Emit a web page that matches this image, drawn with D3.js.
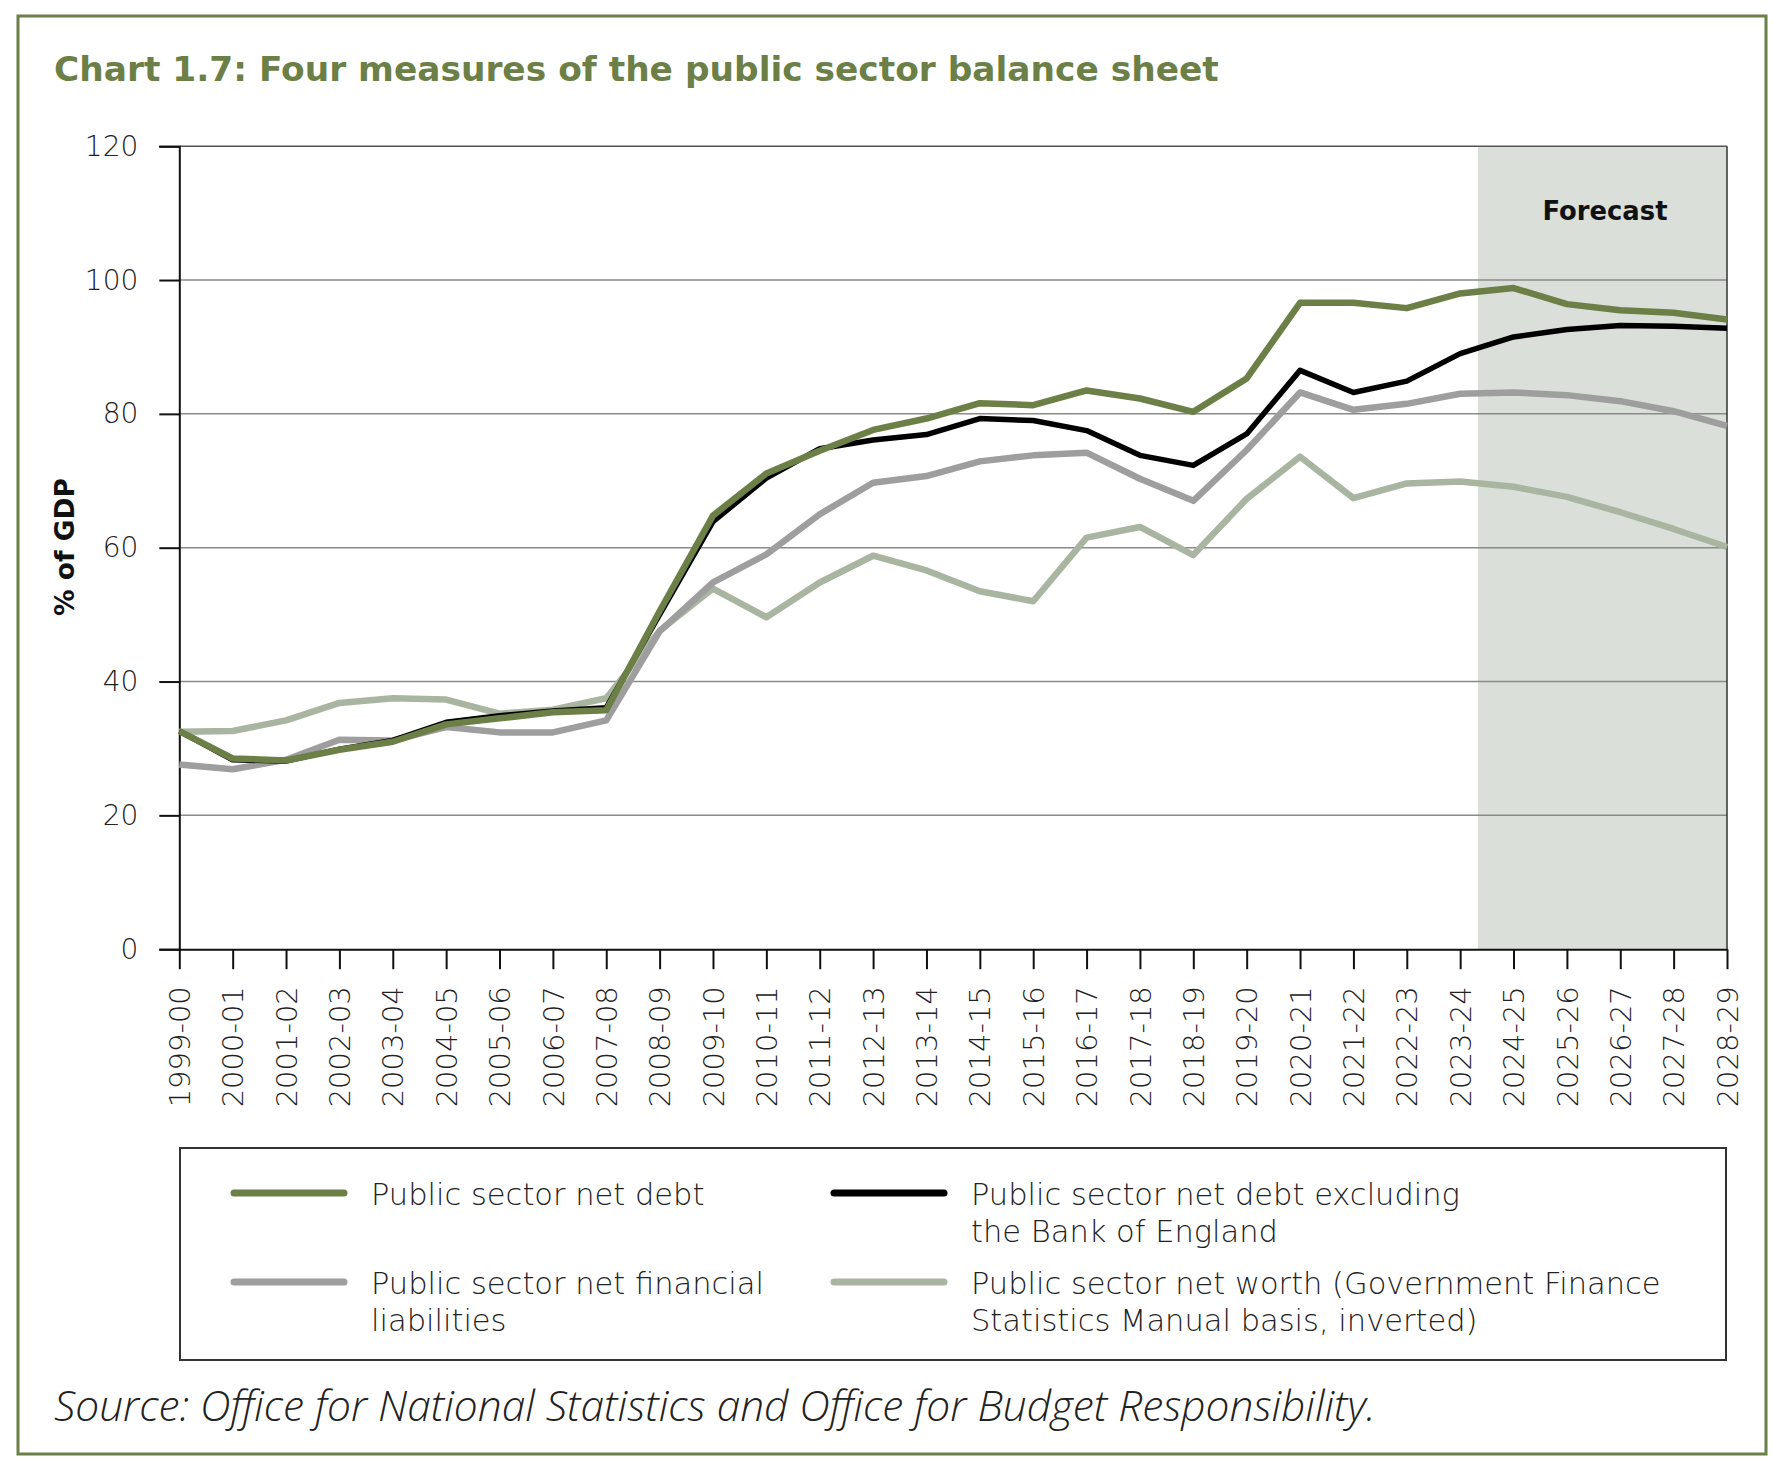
<!DOCTYPE html>
<html>
<head>
<meta charset="utf-8">
<script src="https://cdn.jsdelivr.net/npm/d3@7"></script>
<style>
  body { margin: 0; background: #fff; }
  svg text { font-family: "DejaVu Sans", "Open Sans", sans-serif; }
</style>
</head>
<body>
<svg id="chart" width="1791" height="1474"></svg>
<script>
// Data (% of GDP)
var years = ["1999-00","2000-01","2001-02","2002-03","2003-04","2004-05","2005-06","2006-07","2007-08","2008-09",
  "2009-10","2010-11","2011-12","2012-13","2013-14","2014-15","2015-16","2016-17","2017-18","2018-19",
  "2019-20","2020-21","2021-22","2022-23","2023-24","2024-25","2025-26","2026-27","2027-28","2028-29"];

var psnd = [32.6, 28.5, 28.2, 29.8, 31.0, 33.6, 34.5, 35.4, 35.7, 50.5,
  64.8, 71.1, 74.5, 77.6, 79.3, 81.6, 81.3, 83.5, 82.3, 80.3,
  85.3, 96.6, 96.6, 95.8, 98.0, 98.8, 96.4, 95.5, 95.1, 94.1];

var psndExBoe = [32.6, 28.3, 28.1, 29.9, 31.2, 33.9, 34.9, 35.6, 36.1, 50.0,
  63.9, 70.4, 74.8, 76.1, 76.9, 79.3, 79.0, 77.5, 73.8, 72.3,
  77.0, 86.5, 83.2, 84.9, 89.0, 91.5, 92.6, 93.2, 93.1, 92.8];

var psnfl = [27.6, 26.9, 28.3, 31.3, 31.2, 33.2, 32.4, 32.4, 34.2, 47.5,
  54.8, 59.0, 65.0, 69.7, 70.7, 72.9, 73.8, 74.2, 70.3, 67.0,
  74.6, 83.2, 80.6, 81.5, 83.0, 83.2, 82.8, 81.9, 80.4, 78.2];

var psnw = [32.5, 32.6, 34.2, 36.8, 37.5, 37.3, 35.2, 35.8, 37.5, 47.6,
  53.9, 49.6, 54.8, 58.8, 56.6, 53.5, 52.0, 61.5, 63.1, 58.9,
  67.3, 73.6, 67.4, 69.6, 69.9, 69.1, 67.6, 65.3, 62.8, 60.1];

var yTicks = [0, 20, 40, 60, 80, 100, 120];
var forecastFrom = "2023-24";

var legendLines = [["Public sector net debt"], ["Public sector net debt excluding", "the Bank of England"],
  ["Public sector net financial", "liabilities"], ["Public sector net worth (Government Finance", "Statistics Manual basis, inverted)"]];

var green = "#6b7f46", sage = "#a9b5a0", grey = "#9e9e9e";
var series = [
  { values: psnd, color: green },
  { values: psndExBoe, color: "#000" },
  { values: psnfl, color: grey },
  { values: psnw, color: sage }
];

var svg = d3.select("#chart");

// shrink / grow a text's font so it spans the width it has in the original
function fitWidth(sel, w) {
  var fs = +sel.attr("font-size");
  var cur = sel.node().getComputedTextLength();
  sel.attr("font-size", (fs * w / cur).toFixed(2));
}

// outer frame
svg.append("rect")
  .attr("x", 18).attr("y", 16).attr("width", 1748).attr("height", 1438)
  .attr("fill", "none").attr("stroke", green).attr("stroke-width", 3);

var title = svg.append("text")
  .attr("x", 54).attr("y", 81)
  .attr("font-size", 33).attr("font-weight", 700)
  .attr("fill", green)
  .text("Chart 1.7: Four measures of the public sector balance sheet");
fitWidth(title, 1165);

var plotL = 179.3, plotR = 1727, plotT = 146.2, plotB = 949.2;

var x = d3.scalePoint().domain(years).range([plotL, plotR]);
var y = d3.scaleLinear().domain([0, 120]).range([plotB, plotT]);

// forecast shading, a third of a step past the last outturn year
var fx = x(forecastFrom) + x.step() / 3;
svg.append("rect")
  .attr("x", fx).attr("y", y(120))
  .attr("width", plotR - fx).attr("height", y(0) - y(120))
  .attr("fill", "#dadfd9");

var fc = svg.append("text")
  .attr("x", 1605).attr("y", 220)
  .attr("text-anchor", "middle")
  .attr("font-size", 25).attr("font-weight", 700)
  .attr("fill", "#111")
  .text("Forecast");
fitWidth(fc, 125);

// gridlines
svg.append("g").selectAll("line")
  .data(yTicks.filter(function(d){ return d > 0 })).enter()
  .append("line")
  .attr("x1", plotL).attr("x2", plotR)
  .attr("y1", function(d){ return y(d) }).attr("y2", function(d){ return y(d) })
  .attr("stroke", function(d){ return d == 120 ? "#555" : "#8a8a8a" })
  .attr("stroke-width", 1.5);

// right edge
svg.append("line")
  .attr("x1", plotR).attr("x2", plotR).attr("y1", plotT).attr("y2", plotB)
  .attr("stroke", "#333").attr("stroke-width", 1.5);

// y axis
var yAxis = svg.append("g")
  .attr("transform", "translate(" + plotL + ",0)")
  .call(d3.axisLeft(y).tickValues(yTicks).tickSize(20).tickPadding(21));
yAxis.select(".domain").attr("stroke", "#111").attr("stroke-width", 2);
yAxis.selectAll(".tick line").attr("stroke", "#111").attr("stroke-width", 2);
yAxis.selectAll("text")
  .attr("font-size", 28).attr("font-weight", 200).attr("fill", "#222")
  .style("font-family", "'DejaVu Sans', sans-serif");

var ylab = svg.append("text")
  .attr("transform", "translate(74,547) rotate(-90)")
  .attr("text-anchor", "middle")
  .attr("font-size", 24).attr("font-weight", 700)
  .attr("fill", "#111")
  .text("% of GDP");
fitWidth(ylab, 138);

// x axis
var xAxis = svg.append("g")
  .attr("transform", "translate(0," + plotB + ")")
  .call(d3.axisBottom(x).tickSize(20).tickPadding(0).tickSizeOuter(0));
xAxis.select(".domain").attr("stroke", "#111").attr("stroke-width", 2);
xAxis.selectAll(".tick line").attr("stroke", "#111").attr("stroke-width", 2);
xAxis.selectAll("text")
  .attr("font-size", 29).attr("font-weight", 200).attr("fill", "#222")
  .attr("text-anchor", "end")
  .attr("dy", "0.35em")
  .attr("transform", "translate(0,37) rotate(-90)")
  .attr("x", 0).attr("y", 0)
  .style("font-family", "'DejaVu Sans', sans-serif");

// lines
var line = d3.line()
  .x(function(d, i){ return x(years[i]) })
  .y(function(d){ return y(d) });

svg.append("g").selectAll("path")
  .data([series[3], series[2], series[1], series[0]]).enter()
  .append("path")
  .attr("d", function(d){ return line(d.values) })
  .attr("fill", "none")
  .attr("stroke", function(d){ return d.color })
  .attr("stroke-width", function(d){ return d.color == "#000" ? 5.5 : 6.5 })
  .attr("stroke-linejoin", "round");

// legend
svg.append("rect")
  .attr("x", 180).attr("y", 1148).attr("width", 1546).attr("height", 212)
  .attr("fill", "none").attr("stroke", "#333").attr("stroke-width", 2);

var legPos = [[234, 1193], [834, 1193], [234, 1282], [834, 1282]];
var leg = svg.append("g").selectAll("g")
  .data(series).enter()
  .append("g")
  .attr("transform", function(d, i){ return "translate(" + legPos[i][0] + "," + legPos[i][1] + ")" });

leg.append("line")
  .attr("x1", 0).attr("x2", 110)
  .attr("stroke", function(d){ return d.color })
  .attr("stroke-width", 7).attr("stroke-linecap", "round");

leg.append("text")
  .attr("x", 137).attr("y", 12)
  .attr("font-size", 30.5).attr("font-weight", 200).attr("fill", "#222")
  .selectAll("tspan")
  .data(function(d, i){ return legendLines[i] }).enter()
  .append("tspan")
  .attr("x", 137)
  .attr("dy", function(d, i){ return i == 0 ? 0 : 37 })
  .text(function(d){ return d });

var src = svg.append("text")
  .attr("x", 54).attr("y", 1421)
  .attr("font-size", 30).attr("font-weight", 300).attr("font-style", "italic")
  .attr("fill", "#222")
  .style("font-family", "'Open Sans', sans-serif")
  .text("Source: Office for National Statistics and Office for Budget Responsibility.");
fitWidth(src, 1322);
</script>
</body>
</html>
